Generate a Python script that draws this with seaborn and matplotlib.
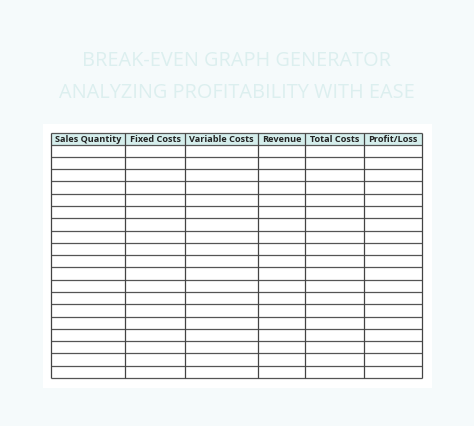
import matplotlib
matplotlib.use("Agg")
import matplotlib.pyplot as plt
import seaborn as sns

# template content
title_lines = ["BREAK-EVEN GRAPH GENERATOR", "ANALYZING PROFITABILITY WITH EASE"]
headers = ["Sales Quantity", "Fixed Costs", "Variable Costs", "Revenue", "Total Costs", "Profit/Loss"]
col_edges = [51.5, 125.5, 185.5, 258, 305, 364, 422]
n_rows = 19

sns.set_theme(style="white")
plt.rcParams["font.family"] = ["Open Sans", "DejaVu Sans"]

fig = plt.figure(figsize=(4.74, 4.26), dpi=100)
fig.patch.set_facecolor("#f5fafb")
ax = fig.add_axes([0, 0, 1, 1])
ax.set_xlim(0, 474)
ax.set_ylim(426, 0)
ax.axis("off")

# white panel
ax.add_patch(plt.Rectangle((43, 124), 389, 264, facecolor="white", edgecolor="none"))

# title
for i, line in enumerate(title_lines):
    ax.text(237, 61 + i * 32, line, ha="center", va="center",
            fontsize=14.3, color="#dcefef")

top, head_bot, bottom = 132.5, 144.5, 378
row_h = (bottom - head_bot) / n_rows
ax.add_patch(plt.Rectangle((col_edges[0], top), col_edges[-1] - col_edges[0],
                           head_bot - top, facecolor="#d5eeec", edgecolor="none"))
for i, h in enumerate(headers):
    ax.text((col_edges[i] + col_edges[i + 1]) / 2, (top + head_bot) / 2 + 0.5, h,
            ha="center", va="center", fontsize=6.6, fontweight="bold", color="#222222")

ys = [top, head_bot] + [head_bot + row_h * (k + 1) for k in range(n_rows)]
ax.hlines(ys, col_edges[0], col_edges[-1], color="#555555", lw=0.9)
ax.vlines(col_edges, top, bottom, color="#444444", lw=0.9)

fig.savefig("out.png", dpi=100, facecolor=fig.get_facecolor())
